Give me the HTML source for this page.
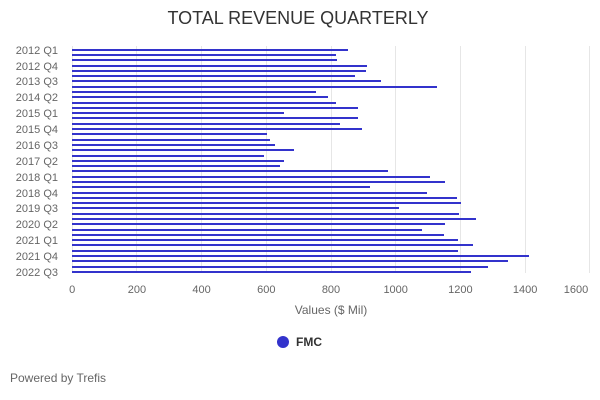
<!DOCTYPE html>
<html><head><style>
body{margin:0;width:600px;height:400px;background:#fff;font-family:"Liberation Sans",sans-serif;position:relative;overflow:hidden}
.a{position:absolute}
.g{position:absolute;top:46px;height:227px;width:1px;background:#e6e6e6}
.b{position:absolute;left:72px;height:2px;background:#3333cc}
.yl{position:absolute;right:542px;font-size:11px;color:#666;white-space:nowrap;line-height:12px}
.xl{position:absolute;top:284px;font-size:11px;color:#666;width:40px;text-align:center;margin-left:-20px}
</style></head><body>
<div class="a" style="left:0;width:596px;top:8px;text-align:center;font-size:18px;color:#333">TOTAL REVENUE QUARTERLY</div>
<div id="c"></div>
<div class="a" style="left:0;width:662px;top:303px;text-align:center;font-size:12px;color:#666">Values ($ Mil)</div>
<div class="a" style="left:277px;top:336px;width:12px;height:12px;border-radius:50%;background:#3333cc"></div>
<div class="a" style="left:296px;top:335px;font-size:12px;font-weight:bold;color:#333">FMC</div>
<div class="a" style="left:10px;top:371px;font-size:12px;color:#666">Powered by Trefis</div>
<script>
var c=document.getElementById('c'),h='';
for(var i=0;i<=8;i++){var x=71.7+i*64.7;h+='<div class="g" style="left:'+x+'px"></div><div class="xl" style="left:'+(i==8?576:x+0.5)+'px">'+(i*200)+'</div>';}
var e=[863,827,830,920,917,884,962,1130,767,803,827,893,671,893,839,905,620,629,644,701,611,671,659,983,1109,1154,929,1100,1190,1202,1016,1196,1247,1154,1085,1151,1193,1238,1193,1406,1343,1283,1232];
var L=['2012 Q1','2012 Q4','2013 Q3','2014 Q2','2015 Q1','2015 Q4','2016 Q3','2017 Q2','2018 Q1','2018 Q4','2019 Q3','2020 Q2','2021 Q1','2021 Q4','2022 Q3'];
for(var i=0;i<43;i++){var y=49.7+i*5.29;h+='<div class="b" style="top:'+Math.round(y-1)+'px;width:'+(e[i]/3+60-72)+'px"></div>';
if(i%3==0)h+='<div class="yl" style="top:'+(y-5)+'px">'+L[i/3]+'</div>';}
c.innerHTML=h;
</script>
</body></html>
